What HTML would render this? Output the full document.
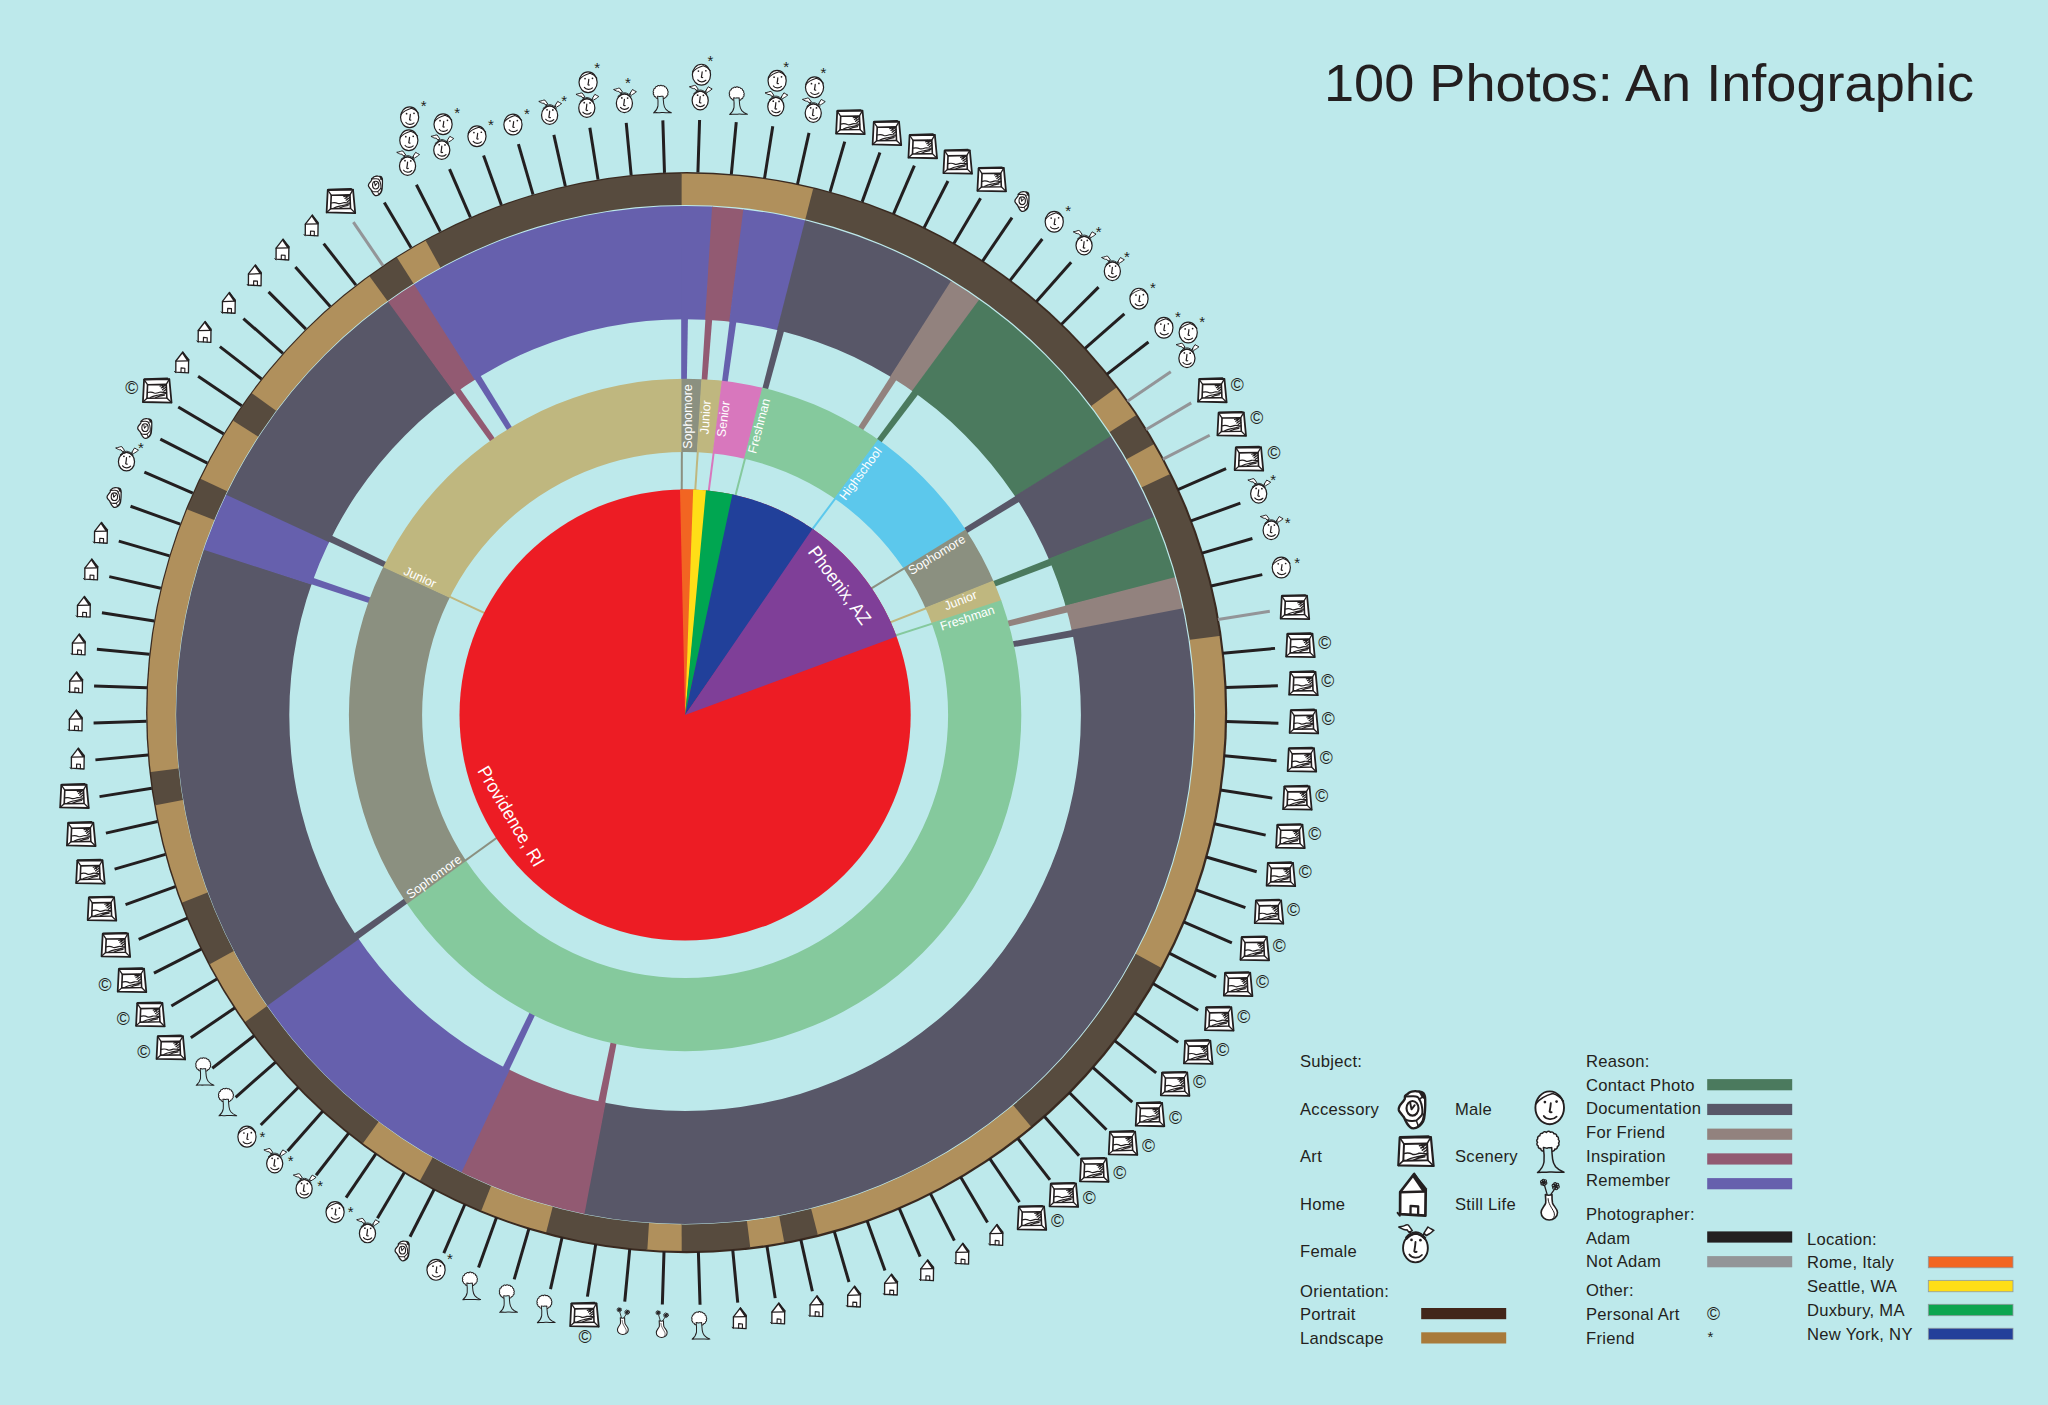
<!DOCTYPE html>
<html><head><meta charset="utf-8"><title>100 Photos: An Infographic</title>
<style>html,body{margin:0;padding:0;background:#bde9eb;overflow:hidden;width:2048px;height:1405px;}svg{display:block;}</style></head>
<body>
<svg width="2048" height="1405" viewBox="0 0 2048 1405" font-family="Liberation Sans, sans-serif">
<defs>
<clipPath id="cy"><path clip-rule="evenodd" d="M348.9,715 a336.2,336.2 0 1,0 672.4,0 a336.2,336.2 0 1,0 -672.4,0ZM422.1,715 a263,263 0 1,0 526,0 a263,263 0 1,0 -526,0Z"/></clipPath>
<clipPath id="cr"><path clip-rule="evenodd" d="M176.1,715 a509,509 0 1,0 1018,0 a509,509 0 1,0 -1018,0ZM289.3,715 a395.8,395.8 0 1,0 791.6,0 a395.8,395.8 0 1,0 -791.6,0Z"/></clipPath>
<clipPath id="co"><path clip-rule="evenodd" d="M147.4,712.2 a538.8,538.8 0 1,0 1077.6,0 a538.8,538.8 0 1,0 -1077.6,0ZM175.7,714.65 a509.75,509.75 0 1,0 1019.5,0 a509.75,509.75 0 1,0 -1019.5,0Z"/></clipPath>
<clipPath id="co2"><path clip-rule="evenodd" d="M143.4,712.2 a542.8,542.8 0 1,0 1085.6,0 a542.8,542.8 0 1,0 -1085.6,0ZM172.7,714.65 a512.75,512.75 0 1,0 1025.5,0 a512.75,512.75 0 1,0 -1025.5,0Z"/></clipPath>
<clipPath id="c1"><path clip-rule="evenodd" d="M286.3,715 a398.8,398.8 0 1,0 797.6,0 a398.8,398.8 0 1,0 -797.6,0ZM351.9,715 a333.2,333.2 0 1,0 666.4,0 a333.2,333.2 0 1,0 -666.4,0Z"/></clipPath>
<clipPath id="c2"><path clip-rule="evenodd" d="M419.1,715 a266,266 0 1,0 532,0 a266,266 0 1,0 -532,0ZM462.5,715 a222.6,222.6 0 1,0 445.2,0 a222.6,222.6 0 1,0 -445.2,0Z"/></clipPath>
<g id="i-watch" fill="#fff" stroke="#231f20" stroke-linejoin="round" stroke-linecap="round"><path stroke-width="2.4" d="M-4.2,-15.9 C-3,-17.2 -1.6,-17.8 -0.4,-18.1 C1.4,-18.6 3,-18.7 4.4,-18.6 C6.2,-18.6 8,-18.4 9.5,-17.8 C11.2,-17.2 12.2,-16.2 12.6,-14.9 C13.1,-13.4 13.3,-11.8 13.3,-10.1 C13.4,-6.6 13.3,-3.2 13.1,0.2 C12.9,3 12.7,6 12.2,8.7 C11.8,10.6 10.9,12.4 9.8,13.8 C8.9,15 7.8,16.1 6.4,16.9 C5,17.8 3.2,18.5 1.6,18.6 C0.2,18.6 -0.9,18.1 -1.8,17.3 C-2.9,16.4 -3.8,15.3 -4.5,14.2 C-5.4,12.9 -6,11.6 -6.6,10.4 C-7.1,9.2 -7.6,8 -8.3,7 C-9.2,5.7 -10.4,4.5 -11.3,3.2 C-12.1,2.2 -12.9,1.3 -13.1,0.2 C-13.3,-1.1 -13,-2.4 -12.4,-3.6 C-11.6,-5.1 -10.3,-6.4 -9.3,-7.7 C-8.5,-8.7 -7.6,-9.7 -7.2,-10.8 C-6.9,-11.7 -7.1,-12.6 -6.9,-13.5 C-6.4,-14.6 -5.2,-15.2 -4.2,-15.9Z"/><path stroke="none" fill="#231f20" d="M6.6,-17.6 C9,-18.2 11.6,-17.4 12.8,-15 C13.5,-13 13.6,-10.6 13.4,-8.6 C12.6,-10.6 11.4,-11.8 9.7,-12.4 C8.9,-14.2 7.9,-15.9 6.6,-17.6Z"/><path stroke="none" fill="#231f20" d="M13,3 C12.8,6.4 12.2,9.6 10.6,12.6 C9.2,15 7.4,16.6 5.4,17.4 L5.2,15.6 C7.2,14.6 8.8,12.6 9.8,10.4 C10.6,8.4 10.9,6.2 11,4Z"/><path stroke-width="2" fill="none" d="M-6.9,-13.2 C-4,-13.4 -1,-13.6 1.6,-13.5 C3.2,-13.4 4.6,-13.2 5.7,-12.8 C6.6,-12.2 7,-11.3 7.4,-10.4 C8.2,-9.2 8.8,-8 9.2,-6.7 C9.7,-5.2 10,-3.5 10.2,-1.9 C10.4,-0.5 10.6,0.8 10.5,2.2 C10.5,3.3 10.3,4.4 9.8,5.3 C8.2,7.4 6.2,9.1 4.4,10.8 C2.8,11.1 1.2,11.2 -0.4,11.1 C-2,11 -3.5,10.8 -4.9,10.4 L-5.9,9.7"/><path stroke-width="1.5" fill="none" d="M4.4,10.8 L6.2,15.6 M7.4,-10.4 C8.6,-11.6 9.6,-12.2 10.6,-12.2"/><ellipse cx="0.6" cy="-1.5" rx="6" ry="7.3" stroke-width="2.1"/><path fill="none" stroke-width="1.9" d="M-1.7,-7 L-0.4,-0.4 L2.8,-4.6"/></g>
<g id="i-art" fill="#fff" stroke="#231f20" stroke-linejoin="round" stroke-linecap="round"><path stroke-width="2.2" d="M-16.2,-13.8 L15,-14.3 L17.7,14.6 L-17.6,13.9Z"/><path stroke-width="2.4" fill="none" d="M-15.6,-14.2 L12.6,-15"/><path stroke-width="2" d="M-11.9,-7.4 L11.2,-7.8 L11.9,8.9 L-12.6,9.3Z"/><path stroke-width="1.6" fill="none" d="M-16.2,-13.8 L-11.9,-7.4 M15,-14.3 L11.2,-7.8 M17.7,14.6 L11.9,8.9 M-17.6,13.9 L-12.6,9.3"/><path stroke-width="1.5" fill="none" d="M-12,2.2 C-9,1.4 -6,1.6 -3.6,2.8 C-1.4,3.8 1,2.6 3,1.9 C5.4,1.2 8.6,2.6 11.6,2.2"/><path stroke-width="1.4" fill="none" d="M-8.6,8.4 C-5.6,6.8 -2.4,6.2 0.4,5.6 C3.6,4.9 6.8,4.2 10.6,3.4 M-2,8.6 C1.6,6.8 5.2,6 9,5.4"/><path stroke-width="1.5" fill="none" d="M10.8,-7.2 L5,-3.4 M11,-4.6 L6.4,-1.2 M8.6,-7.4 L3.6,-5.6 M11.2,-1.8 L8,0.6 M6,-7.4 L7.4,-4"/></g>
<g id="i-home" fill="#fff" stroke="#231f20" stroke-linejoin="round" stroke-linecap="round"><path stroke-width="2.7" d="M2.3,-21 L-11.6,-3 L-11.7,19.1 L13.6,20.7 L13.9,-3.6Z"/><path stroke="none" fill="#231f20" d="M2.3,-22.4 L0.4,-18.4 L10.6,-3.4 L15.3,-3.6 L15.2,-6.6Z"/><path stroke-width="2.5" fill="none" d="M-11.6,-2.8 L14,-3.4"/><path stroke-width="2.3" fill="none" d="M-1.3,19.6 L-1.2,10.8 L6.4,11.5 L6.3,20"/><path stroke-width="2" fill="none" d="M-14.2,17.8 L-12,20.6"/></g>
<g id="i-female" fill="#fff" stroke="#231f20" stroke-linejoin="round" stroke-linecap="round"><path stroke-width="1.5" d="M-7.2,-11.4 L-9.2,-14 C-12,-13.4 -14.2,-15.2 -17.4,-16.8 C-15.4,-17.6 -13.4,-17.2 -11.6,-18.2 C-10.2,-18.9 -9,-19.2 -7.8,-18.7 L-3.9,-13.2Z"/><path stroke-width="1.5" d="M7.6,-10.4 L11.7,-16.8 C13.6,-15.4 15.6,-14.6 17.7,-13.4 C16.4,-12.8 15.4,-11.4 14.2,-10.6 C12.8,-9.8 11.6,-9.2 10.2,-8.2Z"/><ellipse cx="-0.75" cy="4.3" rx="12.4" ry="14.3" stroke-width="1.9"/><path stroke-width="1.4" fill="none" d="M-10.4,-6.4 C-7.6,-9.8 -4,-11.6 -0.4,-11.8 C3.4,-11.6 6.8,-9.4 9.4,-5.8 M-9.6,-4.6 C-6.6,-8.2 -3.6,-9.6 -0.2,-9.8 C3,-9.6 6,-7.8 8.4,-4.6 M-6.6,-12 L-4.4,-9 M8.4,-10.4 L6.4,-8"/><circle cx="-4.7" cy="-3.9" r="1.35" fill="#231f20" stroke="none"/><circle cx="4.2" cy="-3.6" r="1.35" fill="#231f20" stroke="none"/><path stroke-width="1.9" fill="none" d="M-0.7,-1.8 C-0.9,1.6 -1.4,4.6 -1.9,7.4 C-1.4,8.2 -0.6,8.3 0.4,8"/><path stroke-width="1.8" fill="none" d="M-6.8,10.7 C-4.4,14.4 2.4,15 5.7,11.2"/></g>
<g id="i-male" fill="#fff" stroke="#231f20" stroke-linejoin="round" stroke-linecap="round"><ellipse cx="0" cy="0" rx="14.3" ry="16.4" stroke-width="1.9"/><path stroke-width="1.6" fill="none" d="M-13.7,-4 C-10.8,-8 -5.4,-11.8 3,-14.2 C6.8,-13.2 10.8,-10.6 13.7,-6.6"/><circle cx="-4.8" cy="-5.7" r="1.35" fill="#231f20" stroke="none"/><circle cx="6.9" cy="-6.2" r="1.35" fill="#231f20" stroke="none"/><path stroke-width="1.9" fill="none" d="M1.1,-4.6 C0.9,-1.6 0.4,1.4 -0.1,3.8 C0.4,4.6 1,4.7 1.9,4.4"/><path stroke-width="1.8" fill="none" d="M-5.9,8.2 C-3.4,11.9 3.4,12.4 6.9,8.8"/></g>
<g id="i-tree" fill="#fff" stroke="#231f20" stroke-linejoin="round" stroke-linecap="round"><path stroke-width="1.5" d="M0.0,-19.9 A2.4,2.4 0 0 1 3.6,-18.5 A2.3,2.3 0 0 1 6.4,-15.9 A2.3,2.3 0 0 1 8.0,-12.7 A2.2,2.2 0 0 1 8.2,-9.2 A2.2,2.2 0 0 1 7.1,-5.7 A2.3,2.3 0 0 1 4.5,-3.1 A2.4,2.4 0 0 1 1.2,-1.1 A2.4,2.4 0 0 1 -2.7,-0.8 A2.4,2.4 0 0 1 -6.5,-1.4 A2.3,2.3 0 0 1 -9.6,-3.6 A2.3,2.3 0 0 1 -12.1,-6.3 A2.2,2.2 0 0 1 -12.7,-9.9 A2.2,2.2 0 0 1 -12.6,-13.4 A2.3,2.3 0 0 1 -10.4,-16.4 A2.3,2.3 0 0 1 -7.7,-19.0 A2.4,2.4 0 0 1 -3.8,-19.8 A2.4,2.4 0 0 1 0.1,-20.1Z"/><path stroke-width="1.5" fill="#bde9eb" d="M-6.9,-4.6 C-6.2,0 -6,5 -6.3,9.8 C-7,14 -9.6,17.8 -12.8,20.3 C-9,19.4 -5,20.4 -1,19.9 C3,19.4 8,20.5 13.7,20.1 C10,18.6 7,16.6 5.3,14.6 C3.4,12 2.6,9.6 2.3,7 C1.8,3 1.5,-1 1.4,-4.6 C-0.6,-3.8 -1.6,-5 -2.8,-4.2 C-4,-3.6 -5.4,-4.9 -6.9,-4.6Z"/></g>
<g id="i-vase" fill="#fff" stroke="#231f20" stroke-linejoin="round" stroke-linecap="round"><path stroke-width="1.3" fill="none" d="M-4.6,-14 L-2.2,-5.6 M4.9,-10.4 L1.6,-5.6"/><circle cx="-3.7" cy="-17.0" r="1.3" fill="none" stroke-width="1.1"/><circle cx="-5.2" cy="-15.7" r="1.3" fill="none" stroke-width="1.1"/><circle cx="-7.1" cy="-16.3" r="1.3" fill="none" stroke-width="1.1"/><circle cx="-7.5" cy="-18.2" r="1.3" fill="none" stroke-width="1.1"/><circle cx="-6.0" cy="-19.5" r="1.3" fill="none" stroke-width="1.1"/><circle cx="-4.1" cy="-18.9" r="1.3" fill="none" stroke-width="1.1"/><circle cx="-5.6" cy="-17.6" r="1.0" fill="#231f20" stroke="none"/><circle cx="8.5" cy="-13.2" r="1.5" fill="none" stroke-width="1.1"/><circle cx="6.9" cy="-11.7" r="1.5" fill="none" stroke-width="1.1"/><circle cx="4.8" cy="-12.3" r="1.5" fill="none" stroke-width="1.1"/><circle cx="4.3" cy="-14.4" r="1.5" fill="none" stroke-width="1.1"/><circle cx="5.9" cy="-15.9" r="1.5" fill="none" stroke-width="1.1"/><circle cx="8.0" cy="-15.3" r="1.5" fill="none" stroke-width="1.1"/><circle cx="6.4" cy="-13.8" r="1.1" fill="#231f20" stroke="none"/><path stroke-width="1.6" d="M-3.9,-5.4 C-3.6,-2 -3.4,0.6 -3.6,3 C-4.4,6 -8.2,8.6 -8.2,12.6 C-8.2,17 -4.4,20 -0.1,20 C4.4,20 8.2,17 8.2,12.6 C8.2,8.6 4,6 3.2,3 C2.8,0.6 2.6,-2 2.7,-5.4 C0.6,-4.6 -1.8,-4.6 -3.9,-5.4Z"/><path stroke-width="1" fill="none" d="M-1.2,-1.4 C-1.4,3 2.6,8 4.6,12 C5.6,14.6 5.2,17 3.6,18.8"/></g>
</defs>
<rect width="2048" height="1405" fill="#bde9eb"/>
<g clip-path="url(#c1)">
<path d="M681.2,704.5L681.2,284.5L688.53,284.56Z" fill="#6660ad"/>
<path d="M681.2,704.5L707.57,285.33L714.88,285.85Z" fill="#925a72"/>
<path d="M681.2,704.5L733.84,287.81L741.1,288.79Z" fill="#6660ad"/>
<path d="M681.2,704.5L785.65,297.7L792.73,299.58Z" fill="#585768"/>
<path d="M681.2,704.5L907.17,350.47L913.32,354.47Z" fill="#92827e"/>
<path d="M681.2,704.5L930.44,366.44L936.3,370.85Z" fill="#4b7a5e"/>
<path d="M681.2,704.5L1037.57,482.24L1041.4,488.5Z" fill="#585768"/>
<path d="M681.2,704.5L1071.71,549.89L1074.35,556.73Z" fill="#4b7a5e"/>
<path d="M681.2,704.5L1088,600.05L1089.77,607.17Z" fill="#92827e"/>
<path d="M681.2,704.5L1093.76,625.8L1095.07,633.01Z" fill="#585768"/>
<path d="M681.2,704.5L602.5,1117.06L595.31,1115.62Z" fill="#925a72"/>
<path d="M681.2,704.5L502.37,1084.53L495.77,1081.35Z" fill="#6660ad"/>
<path d="M681.2,704.5L341.41,951.37L337.16,945.4Z" fill="#585768"/>
<path d="M681.2,704.5L281.76,574.71L284.08,567.76Z" fill="#6660ad"/>
<path d="M681.2,704.5L299.93,528.33L303.07,521.7Z" fill="#585768"/>
<path d="M681.2,704.5L434.33,364.71L440.3,360.46Z" fill="#925a72"/>
<path d="M681.2,704.5L456.15,349.88L462.38,346.01Z" fill="#6660ad"/>
</g>
<g clip-path="url(#c2)">
<line x1="681.59" y1="554.5" x2="681.99" y2="404.5" stroke="#8b9080" stroke-width="2"/>
<line x1="691.01" y1="554.82" x2="700.82" y2="405.14" stroke="#bfb77f" stroke-width="2"/>
<line x1="700.39" y1="555.73" x2="719.58" y2="406.97" stroke="#d877bd" stroke-width="2"/>
<line x1="718.88" y1="559.31" x2="756.57" y2="414.12" stroke="#85c99d" stroke-width="2"/>
<line x1="771.05" y1="584.39" x2="860.91" y2="464.28" stroke="#5cc8ec" stroke-width="2"/>
<line x1="809.23" y1="626.35" x2="937.27" y2="548.2" stroke="#8b9080" stroke-width="2"/>
<line x1="820.81" y1="649.65" x2="960.42" y2="594.79" stroke="#bfb77f" stroke-width="2"/>
<line x1="823.98" y1="658.52" x2="966.76" y2="612.54" stroke="#85c99d" stroke-width="2"/>
<line x1="559.62" y1="792.35" x2="438.03" y2="880.2" stroke="#8b9080" stroke-width="2"/>
<line x1="545.2" y1="641.23" x2="409.2" y2="577.95" stroke="#bfb77f" stroke-width="2"/>
</g>
<circle cx="685.1" cy="715" r="225.6" fill="#ed1c24"/>
<path d="M685.1,715L679.98,489.46L681.83,489.42L683.67,489.4L685.52,489.4L687.36,489.41L689.21,489.44L691.05,489.48L692.9,489.53L694.74,489.61Z" fill="#f26522"/>
<path d="M685.1,715L693.17,489.54L694.97,489.62L696.76,489.7L698.55,489.8L700.35,489.92L702.14,490.04L703.93,490.19L705.72,490.34L707.51,490.52Z" fill="#ffde17"/>
<path d="M685.1,715L705.94,490.36L707.82,490.55L709.7,490.75L711.58,490.96L713.45,491.19L715.33,491.43L717.2,491.7L719.07,491.97L720.94,492.26L722.8,492.57L724.66,492.9L726.52,493.24L728.38,493.59L730.23,493.96L732.08,494.35L733.93,494.75Z" fill="#00a651"/>
<path d="M685.1,715L732.39,494.41L734.29,494.83L736.18,495.26L738.07,495.71L739.96,496.17L741.84,496.65L743.72,497.15L745.6,497.66L747.46,498.19L749.33,498.74L751.19,499.3L753.05,499.87L754.9,500.47L756.74,501.08L758.58,501.7L760.41,502.34L762.24,503L764.07,503.67L765.88,504.36L767.7,505.06L769.5,505.78L771.3,506.52L773.09,507.27L774.88,508.03L776.66,508.81L778.43,509.61L780.19,510.42L781.95,511.25L783.7,512.09L785.45,512.95L787.18,513.82L788.91,514.7L790.63,515.61L792.35,516.52L794.05,517.45L795.75,518.4L797.44,519.36L799.12,520.33L800.79,521.32L802.46,522.33L804.11,523.35L805.76,524.38L807.4,525.42L809.02,526.48L810.64,527.56L812.25,528.65L813.85,529.75Z" fill="#21409a"/>
<path d="M685.1,715L812.56,528.85L814.16,529.97L815.76,531.09L817.35,532.23L818.93,533.38L820.5,534.55L822.06,535.73L823.61,536.92L825.14,538.13L826.67,539.35L828.19,540.58L829.69,541.83L831.19,543.09L832.67,544.36L834.15,545.65L835.61,546.94L837.06,548.25L838.5,549.58L839.93,550.91L841.34,552.26L842.75,553.62L844.14,554.99L845.52,556.38L846.89,557.77L848.24,559.18L849.59,560.6L850.92,562.03L852.24,563.47L853.55,564.93L854.84,566.39L856.12,567.87L857.39,569.36L858.64,570.86L859.89,572.36L861.12,573.88L862.33,575.42L863.54,576.96L864.73,578.51L865.9,580.07L867.06,581.64L868.21,583.22L869.35,584.81L870.47,586.42L871.58,588.03L872.67,589.65L873.75,591.28L874.81,592.92L875.86,594.56L876.9,596.22L877.92,597.89L878.93,599.56L879.92,601.25L880.9,602.94L881.86,604.64L882.81,606.35L883.75,608.07L884.67,609.79L885.57,611.53L886.46,613.27L887.33,615.02L888.19,616.77L889.04,618.54L889.86,620.31L890.68,622.08L891.47,623.87L892.26,625.66L893.02,627.46L893.77,629.26L894.51,631.08L895.23,632.89L895.93,634.72L896.62,636.55Z" fill="#7f3f98"/>
<g clip-path="url(#cy)">
<path d="M681.2,704.5L680.54,-55.5L692.81,-55.41L705.07,-55.12L717.33,-54.64L729.58,-53.96Z" fill="#8b9080"/>
<path d="M681.2,704.5L728.26,-54.04L740.5,-53.18L752.72,-52.13L764.93,-50.87L777.11,-49.42Z" fill="#bfb77f"/>
<path d="M681.2,704.5L775.8,-49.59L789.5,-47.74L803.18,-45.65L816.81,-43.3L830.4,-40.71L843.94,-37.87L857.42,-34.79L870.85,-31.46Z" fill="#d877bd"/>
<path d="M681.2,704.5L869.56,-31.79L884.64,-27.77L899.63,-23.44L914.53,-18.8L929.32,-13.86L944.02,-8.61L958.6,-3.06L973.07,2.78L987.42,8.92L1001.63,15.35L1015.71,22.08L1029.65,29.09L1043.44,36.38L1057.08,43.96L1070.56,51.82L1083.88,59.95L1097.03,68.35L1110,77.02L1122.79,85.95L1135.4,95.15Z" fill="#85c99d"/>
<path d="M681.2,704.5L1134.33,94.36L1146.51,103.6L1158.51,113.08L1170.31,122.8L1181.91,132.76L1193.31,142.94L1204.5,153.36L1215.48,164L1226.25,174.85L1236.79,185.93L1247.11,197.21L1257.2,208.69L1267.06,220.38L1276.68,232.26L1286.06,244.34L1295.19,256.6L1304.08,269.04L1312.71,281.66L1321.09,294.45L1329.21,307.4Z" fill="#5cc8ec"/>
<path d="M681.2,704.5L1328.51,306.27L1336.15,318.96L1343.54,331.8L1350.68,344.78L1357.56,357.89L1364.19,371.14L1370.55,384.51L1376.66,398.01L1382.5,411.62L1388.07,425.34Z" fill="#8b9080"/>
<path d="M681.2,704.5L1387.59,424.11L1392.02,435.55L1396.27,447.06L1400.33,458.64L1404.21,470.28Z" fill="#bfb77f"/>
<path d="M681.2,704.5L1403.8,469.02L1408.54,484.1L1412.97,499.28L1417.08,514.54L1420.87,529.89L1424.34,545.31L1427.49,560.81L1430.32,576.36L1432.82,591.97L1435,607.63L1436.85,623.33L1438.38,639.07L1439.58,654.83L1440.44,670.62L1440.98,686.42L1441.2,702.23L1441.08,718.04L1440.63,733.84L1439.86,749.63L1438.76,765.4L1437.33,781.15L1435.57,796.86L1433.48,812.53L1431.07,828.16L1428.34,843.73L1425.28,859.24L1421.9,874.68L1418.2,890.05L1414.18,905.34L1409.84,920.55L1405.19,935.66L1400.23,950.67L1394.95,965.57L1389.37,980.36L1383.48,995.03L1377.28,1009.58L1370.78,1023.99L1363.99,1038.27L1356.9,1052.4L1349.51,1066.38L1341.84,1080.2L1333.88,1093.86L1325.64,1107.35L1317.12,1120.67L1308.33,1133.81L1299.26,1146.76L1289.93,1159.52L1280.33,1172.09L1270.48,1184.45L1260.37,1196.6L1250.01,1208.54L1239.4,1220.27L1228.55,1231.77L1217.46,1243.04L1206.14,1254.08L1194.6,1264.88L1182.83,1275.43L1170.85,1285.75L1158.65,1295.81L1146.25,1305.61L1133.64,1315.15L1120.84,1324.43L1107.85,1333.44L1094.68,1342.18L1081.32,1350.64L1067.79,1358.83L1054.1,1366.73L1040.24,1374.34L1026.23,1381.66L1012.07,1388.7L997.77,1395.43L983.33,1401.87L968.76,1408L954.06,1413.83L939.25,1419.35L924.32,1424.56L909.29,1429.47L894.16,1434.05L878.94,1438.33L863.63,1442.28L848.25,1445.91L832.79,1449.23L817.26,1452.22L801.68,1454.89L786.04,1457.23L770.36,1459.25L754.64,1460.94L738.89,1462.31L723.12,1463.34L707.32,1464.05L691.52,1464.43L675.71,1464.48L659.9,1464.2L644.1,1463.59L628.32,1462.66L612.56,1461.39L596.83,1459.8L581.14,1457.88L565.49,1455.64L549.89,1453.07L534.35,1450.18L518.87,1446.96L503.46,1443.42L488.13,1439.57L472.88,1435.39L457.72,1430.9L442.66,1426.09L427.7,1420.98L412.85,1415.55L398.12,1409.81L383.51,1403.77L369.03,1397.43L354.68,1390.78L340.48,1383.84L326.42,1376.61L312.51,1369.08L298.77,1361.27L285.19,1353.17L271.78,1344.8L258.55,1336.14L245.51,1327.21L232.65,1318.01L219.98,1308.55L207.52,1298.83L195.26,1288.84L183.21,1278.61L171.37,1268.13L159.76,1257.4L148.37,1246.43L137.21,1235.23L126.29,1223.8L115.61,1212.15L105.17,1200.27L94.98,1188.18L85.05,1175.88L75.37,1163.38L65.96,1150.68Z" fill="#85c99d"/>
<path d="M681.2,704.5L66.74,1151.75L57.55,1138.85L48.63,1125.76L39.99,1112.49L31.63,1099.03L23.55,1085.41L15.75,1071.62L8.25,1057.68L1.03,1043.58L-5.89,1029.33L-12.51,1014.94L-18.82,1000.41L-24.84,985.76L-30.55,970.99L-35.95,956.1L-41.03,941.1L-45.81,925.99L-50.27,910.79L-54.41,895.51L-58.23,880.14L-61.73,864.69L-64.9,849.17L-67.76,833.59L-70.28,817.95L-72.49,802.27L-74.36,786.54L-75.9,770.78L-77.12,754.98L-78.01,739.17L-78.57,723.34L-78.79,707.5L-78.69,691.67L-78.26,675.83L-77.5,660.01L-76.4,644.21L-74.98,628.43L-73.23,612.69L-71.16,596.99L-68.75,581.33L-66.02,565.73L-62.97,550.19L-59.59,534.72L-55.89,519.31L-51.87,503.99L-47.54,488.76L-42.88,473.62L-37.91,458.58L-32.63,443.65L-27.04,428.83L-21.14,414.13L-14.94,399.56L-8.43,385.11Z" fill="#8b9080"/>
<path d="M681.2,704.5L-8.99,386.32L-2.25,372.09L4.79,358L12.11,344.05L19.72,330.27L27.62,316.64L35.8,303.18L44.25,289.9L52.98,276.79L61.98,263.86L71.24,251.13L80.76,238.59L90.55,226.24L100.58,214.11L110.87,202.18L121.4,190.47L132.17,178.98L143.18,167.72L154.41,156.69L165.88,145.89L177.56,135.33L189.47,125.02L201.58,114.96L213.9,105.14L226.42,95.59L239.13,86.3L252.03,77.27L265.12,68.51L278.39,60.03L291.83,51.82L305.44,43.89L319.21,36.25L333.13,28.89L347.2,21.82L361.42,15.05L375.77,8.57L390.26,2.39L404.87,-3.48L419.6,-9.06L434.44,-14.33L449.39,-19.28L464.44,-23.93L479.57,-28.27L494.8,-32.29L510.11,-35.99L525.49,-39.38L540.93,-42.44L556.44,-45.19L572,-47.61L587.61,-49.72L603.26,-51.49L618.94,-52.95L634.65,-54.07L650.37,-54.87L666.12,-55.35L681.86,-55.5Z" fill="#bfb77f"/>
</g>
<g clip-path="url(#cr)">
<path d="M681.2,704.5L680.54,-55.5L692.81,-55.41L705.07,-55.12L717.33,-54.64L729.58,-53.96Z" fill="#6660ad"/>
<path d="M681.2,704.5L728.26,-54.04L740.5,-53.18L752.72,-52.13L764.93,-50.87L777.11,-49.42Z" fill="#925a72"/>
<path d="M681.2,704.5L775.8,-49.59L789.5,-47.74L803.18,-45.65L816.81,-43.3L830.4,-40.71L843.94,-37.87L857.42,-34.79L870.85,-31.46Z" fill="#6660ad"/>
<path d="M681.2,704.5L869.56,-31.79L884.18,-27.89L898.72,-23.71L913.17,-19.23L927.53,-14.47L941.8,-9.43L955.96,-4.1L970.01,1.51L983.95,7.4L997.76,13.57L1011.45,20.01L1025.01,26.72L1038.44,33.69L1051.72,40.94L1064.86,48.44L1077.84,56.21L1090.67,64.24Z" fill="#585768"/>
<path d="M681.2,704.5L1089.55,63.52L1100.53,70.66L1111.4,77.98L1122.13,85.48L1132.73,93.17Z" fill="#92827e"/>
<path d="M681.2,704.5L1131.66,92.39L1143.8,101.51L1155.76,110.87L1167.52,120.47L1179.09,130.3L1190.47,140.36L1201.63,150.65L1212.59,161.16L1223.34,171.88L1233.88,182.82L1244.19,193.97L1254.28,205.32L1264.13,216.86L1273.76,228.61L1283.15,240.54L1292.3,252.66L1301.2,264.96L1309.86,277.43L1318.27,290.08L1326.42,302.89Z" fill="#4b7a5e"/>
<path d="M681.2,704.5L1325.72,301.76L1333.75,314.9L1341.51,328.21L1349,341.67L1356.21,355.27L1363.15,369.02L1369.81,382.91L1376.18,396.93L1382.27,411.08L1388.07,425.34Z" fill="#585768"/>
<path d="M681.2,704.5L1387.59,424.11L1392.57,437.01L1397.32,450L1401.84,463.08L1406.11,476.23L1410.14,489.47L1413.94,502.77L1417.49,516.14Z" fill="#4b7a5e"/>
<path d="M681.2,704.5L1417.16,514.85L1420.12,526.76L1422.9,538.71L1425.48,550.71L1427.86,562.74Z" fill="#92827e"/>
<path d="M681.2,704.5L1427.61,561.44L1430.42,576.95L1432.9,592.51L1435.06,608.13L1436.9,623.78L1438.41,639.47L1439.6,655.19L1440.46,670.93L1440.99,686.68L1441.2,702.44L1441.08,718.2L1440.63,733.96L1439.85,749.7L1438.75,765.42L1437.33,781.12L1435.58,796.78L1433.5,812.41L1431.1,827.99L1428.38,843.51L1425.33,858.98L1421.97,874.38L1418.29,889.7L1414.29,904.95L1409.98,920.11L1405.35,935.18L1400.41,950.14L1395.16,965.01L1389.6,979.76L1383.74,994.39L1377.58,1008.89L1371.12,1023.27L1364.36,1037.51L1357.3,1051.61L1349.96,1065.55L1342.33,1079.34L1334.41,1092.97L1326.22,1106.44L1317.74,1119.73L1308.99,1132.84L1299.98,1145.77L1290.69,1158.5L1281.15,1171.04L1271.34,1183.39L1261.28,1195.52L1250.98,1207.45L1240.42,1219.15L1229.63,1230.64L1218.6,1241.9L1207.34,1252.93L1195.85,1263.72L1184.15,1274.28L1172.22,1284.58L1160.09,1294.64L1147.74,1304.45L1135.2,1313.99L1122.47,1323.28L1109.54,1332.29L1096.43,1341.04L1083.14,1349.52L1069.67,1357.71L1056.04,1365.63L1042.25,1373.26L1028.31,1380.6L1014.21,1387.66L999.97,1394.42L985.59,1400.88L971.09,1407.04L956.46,1412.9L941.71,1418.46L926.84,1423.71L911.88,1428.65L896.81,1433.28L881.65,1437.59L866.4,1441.59L851.08,1445.27L835.68,1448.63L820.21,1451.68L804.69,1454.4L789.11,1456.8L773.48,1458.88L757.82,1460.63L742.12,1462.05L726.4,1463.15L710.66,1463.93L694.9,1464.38L679.14,1464.5L663.38,1464.29L647.63,1463.76L631.89,1462.9L616.17,1461.71L600.48,1460.2L584.83,1458.36L569.21,1456.2L553.65,1453.72L538.14,1450.91Z" fill="#585768"/>
<path d="M681.2,704.5L539.44,1451.16L524.93,1448.26L510.49,1445.08L496.1,1441.62L481.79,1437.87L467.55,1433.85L453.39,1429.55L439.32,1424.98L425.34,1420.14L411.46,1415.02L397.68,1409.64L384.01,1403.98L370.45,1398.07L357.01,1391.89Z" fill="#925a72"/>
<path d="M681.2,704.5L358.21,1392.45L344.39,1385.79L330.72,1378.86L317.18,1371.65L303.8,1364.17L290.57,1356.42L277.49,1348.41L264.59,1340.14L251.85,1331.6L239.28,1322.81L226.9,1313.77L214.7,1304.48L202.69,1294.95L190.88,1285.17L179.26,1275.16L167.85,1264.92L156.65,1254.45L145.66,1243.76L134.89,1232.84L124.34,1221.71L114.02,1210.37L103.93,1198.83L94.07,1187.08L84.46,1175.14L75.08,1163L65.96,1150.68Z" fill="#6660ad"/>
<path d="M681.2,704.5L66.74,1151.75L57.69,1139.05L48.9,1126.16L40.38,1113.09L32.13,1099.85L24.15,1086.45L16.45,1072.88L9.03,1059.16L1.89,1045.29L-4.96,1031.27L-11.53,1017.12L-17.8,1002.84L-23.77,988.43L-29.45,973.9L-34.83,959.25L-39.91,944.5L-44.68,929.65L-49.15,914.7L-53.31,899.67L-57.16,884.55L-60.7,869.36L-63.93,854.1L-66.84,838.77L-69.44,823.39L-71.73,807.96L-73.69,792.48L-75.34,776.97L-76.67,761.43L-77.67,745.86L-78.36,730.27L-78.73,714.68L-78.78,699.08L-78.51,683.48L-77.92,667.89L-77.01,652.32L-75.78,636.77L-74.23,621.25L-72.36,605.76L-70.17,590.31L-67.67,574.91L-64.85,559.57L-61.72,544.29L-58.28,529.07L-54.52,513.93L-50.45,498.87L-46.08,483.9L-41.4,469.02Z" fill="#585768"/>
<path d="M681.2,704.5L-41.81,470.28L-36.96,455.81L-31.83,441.45L-26.4,427.19L-20.69,413.05L-14.7,399.02L-8.43,385.11Z" fill="#6660ad"/>
<path d="M681.2,704.5L-8.99,386.32L-2.34,372.27L4.6,358.36L11.82,344.59L19.33,330.97L27.1,317.51L35.16,304.22L43.48,291.09L52.07,278.13L60.92,265.35L70.03,252.75L79.4,240.35L89.02,228.14L98.89,216.12L109,204.32L119.35,192.72L129.93,181.33L140.75,170.17L151.79,159.22L163.06,148.51L174.54,138.03L186.23,127.78L198.13,117.78L210.23,108.02L222.53,98.51L235.02,89.26Z" fill="#585768"/>
<path d="M681.2,704.5L233.95,90.04L243.92,82.9L254.02,75.92L264.22,69.1L274.53,62.46Z" fill="#925a72"/>
<path d="M681.2,704.5L273.41,63.17L286.49,55.04L299.72,47.18L313.12,39.58L326.66,32.26L340.35,25.22L354.18,18.45L368.15,11.97L382.24,5.77L396.46,-0.14L410.79,-5.77L425.23,-11.1L439.78,-16.14L454.43,-20.88L469.17,-25.32L483.99,-29.47L498.9,-33.31L513.89,-36.85L528.94,-40.09L544.05,-43.02L559.22,-45.65L574.44,-47.96L589.71,-49.97L605.01,-51.67L620.34,-53.06L635.7,-54.14L651.08,-54.9L666.47,-55.36L681.86,-55.5Z" fill="#6660ad"/>
</g>
<circle cx="686.65" cy="712.65" r="540.55" fill="#3a2a20" clip-path="url(#co2)"/>
<g clip-path="url(#co)">
<path d="M681.2,704.5L680.54,-55.5L695.33,-55.37L710.12,-54.95L724.9,-54.24L739.66,-53.25L754.4,-51.97L769.11,-50.4L783.79,-48.54L798.43,-46.4L813.02,-43.98L827.57,-41.27L842.06,-38.28L856.48,-35.01L870.85,-31.46Z" fill="#b0905c"/>
<path d="M681.2,704.5L869.56,-31.79L884.53,-27.8L899.41,-23.5L914.2,-18.9L928.89,-14.01L943.48,-8.81L957.96,-3.32L972.33,2.47L986.57,8.55L1000.69,14.92L1014.68,21.57L1028.53,28.51L1042.23,35.73L1055.78,43.22L1069.18,50.99L1082.42,59.03L1095.49,67.34L1108.38,75.92L1121.1,84.75L1133.64,93.85L1145.99,103.19L1158.15,112.79L1170.11,122.63L1181.86,132.72L1193.41,143.04L1204.75,153.59L1215.86,164.37L1226.76,175.38L1237.43,186.61L1247.87,198.05L1258.07,209.7L1268.03,221.56L1277.75,233.62L1287.22,245.88L1296.44,258.32Z" fill="#574b3e"/>
<path d="M681.2,704.5L1295.66,257.25L1302.8,267.22L1309.78,277.32L1316.6,287.52L1323.24,297.83Z" fill="#b0905c"/>
<path d="M681.2,704.5L1322.53,296.71L1329.03,307.12L1335.36,317.63L1341.52,328.24L1347.51,338.95Z" fill="#574b3e"/>
<path d="M681.2,704.5L1346.87,337.79L1352.71,348.58L1358.36,359.47L1363.85,370.44L1369.15,381.51Z" fill="#b0905c"/>
<path d="M681.2,704.5L1368.59,380.31L1374.85,393.94L1380.85,407.7L1386.57,421.57L1392.02,435.55L1397.19,449.63L1402.08,463.82L1406.69,478.1L1411.02,492.47L1415.07,506.92L1418.82,521.44L1422.3,536.04L1425.48,550.71L1428.37,565.43L1430.97,580.21L1433.28,595.04L1435.29,609.9Z" fill="#574b3e"/>
<path d="M681.2,704.5L1435.12,608.59L1436.92,623.93L1438.4,639.31L1439.57,654.71L1440.42,670.13L1440.96,685.57L1441.19,701.01L1441.11,716.46L1440.71,731.9L1439.99,747.33L1438.97,762.74L1437.62,778.13L1435.97,793.49L1434.01,808.81L1431.73,824.09L1429.15,839.32L1426.25,854.49L1423.05,869.6L1419.54,884.64L1415.73,899.61L1411.61,914.5L1407.19,929.3L1402.47,944.01L1397.46,958.62L1392.15,973.12L1386.54,987.51L1380.64,1001.79L1374.46,1015.94L1367.98,1029.97L1361.23,1043.86L1354.19,1057.61L1346.87,1071.21Z" fill="#b0905c"/>
<path d="M681.2,704.5L1347.51,1070.05L1340.09,1083.26L1332.41,1096.32L1324.47,1109.22L1316.28,1121.96L1307.83,1134.54L1299.14,1146.94L1290.19,1159.17L1281.01,1171.22L1271.59,1183.08L1261.93,1194.75L1252.05,1206.23L1241.93,1217.51L1231.59,1228.59L1221.04,1239.45L1210.27,1250.11L1199.29,1260.54L1188.1,1270.76L1176.72,1280.75L1165.13,1290.51Z" fill="#574b3e"/>
<path d="M681.2,704.5L1166.15,1289.67L1154.31,1299.28L1142.28,1308.66L1130.06,1317.79L1117.66,1326.67L1105.09,1335.31L1092.34,1343.69L1079.43,1351.81L1066.36,1359.67L1053.13,1367.27L1039.75,1374.6L1026.23,1381.66L1012.57,1388.45L998.78,1394.97L984.86,1401.2L970.81,1407.15L956.65,1412.83L942.38,1418.21L928,1423.31L913.53,1428.12L898.96,1432.64L884.3,1436.86L869.56,1440.79Z" fill="#b0905c"/>
<path d="M681.2,704.5L870.85,1440.46L858.94,1443.42L846.99,1446.2L834.99,1448.78L822.96,1451.16Z" fill="#574b3e"/>
<path d="M681.2,704.5L824.26,1450.91L812.19,1453.13L800.09,1455.14L787.96,1456.96L775.8,1458.59Z" fill="#b0905c"/>
<path d="M681.2,704.5L777.11,1458.42L763.37,1460.04L749.61,1461.41L735.82,1462.53L722.02,1463.4L708.2,1464.02L694.37,1464.39L680.54,1464.5Z" fill="#574b3e"/>
<path d="M681.2,704.5L681.86,1464.5L669.59,1464.41L657.33,1464.12L645.07,1463.64L632.82,1462.96Z" fill="#b0905c"/>
<path d="M681.2,704.5L634.14,1463.04L619.72,1462.01L605.32,1460.7L590.95,1459.12L576.61,1457.27L562.31,1455.14L548.05,1452.75L533.84,1450.08L519.69,1447.14L505.59,1443.93L491.55,1440.46Z" fill="#574b3e"/>
<path d="M681.2,704.5L492.84,1440.79L479.47,1437.24L466.17,1433.44L452.93,1429.41L439.78,1425.14L426.7,1420.62L413.71,1415.87L400.81,1410.89Z" fill="#b0905c"/>
<path d="M681.2,704.5L402.04,1411.37L389.22,1406.18L376.5,1400.75L363.88,1395.08L351.36,1389.2L338.96,1383.08L326.66,1376.74L314.49,1370.17Z" fill="#574b3e"/>
<path d="M681.2,704.5L315.65,1370.81L303.58,1364.05L291.64,1357.07L279.83,1349.87L268.15,1342.46L256.61,1334.83L245.2,1327L233.95,1318.96Z" fill="#b0905c"/>
<path d="M681.2,704.5L235.02,1319.74L222.96,1310.81L211.08,1301.65L199.38,1292.25L187.87,1282.62L176.55,1272.77L165.43,1262.7L154.51,1252.41L143.8,1241.9L133.29,1231.19L123,1220.27L112.93,1209.15L103.08,1197.83L93.45,1186.32L84.05,1174.62L74.89,1162.74L65.96,1150.68Z" fill="#574b3e"/>
<path d="M681.2,704.5L66.74,1151.75L58.7,1140.5L50.87,1129.09L43.24,1117.55L35.83,1105.87L28.63,1094.06L21.65,1082.12L14.89,1070.05Z" fill="#b0905c"/>
<path d="M681.2,704.5L15.53,1071.21L8.96,1059.04L2.62,1046.74L-3.5,1034.34L-9.38,1021.82L-15.05,1009.2L-20.48,996.48L-25.67,983.66Z" fill="#574b3e"/>
<path d="M681.2,704.5L-25.19,984.89L-30.39,971.4L-35.34,957.82L-40.03,944.14L-44.46,930.38L-48.62,916.53L-52.52,902.61L-56.16,888.62L-59.53,874.56L-62.63,860.44L-65.46,846.26Z" fill="#b0905c"/>
<path d="M681.2,704.5L-65.21,847.56L-67.43,835.49L-69.44,823.39L-71.26,811.26L-72.89,799.1Z" fill="#574b3e"/>
<path d="M681.2,704.5L-72.72,800.41L-74.51,785.18L-75.98,769.92L-77.14,754.63L-78,739.32L-78.55,724L-78.79,708.67L-78.72,693.33L-78.34,678L-77.65,662.68L-76.65,647.38L-75.34,632.11L-73.73,616.86L-71.81,601.65L-69.58,586.47L-67.05,571.35L-64.21,556.28L-61.07,541.28L-57.62,526.33L-53.88,511.46L-49.83,496.67L-45.49,481.97L-40.85,467.35L-35.92,452.83L-30.7,438.42L-25.19,424.11Z" fill="#b0905c"/>
<path d="M681.2,704.5L-25.67,425.34L-21.08,413.97L-16.29,402.67L-11.33,391.45L-6.19,380.31Z" fill="#574b3e"/>
<path d="M681.2,704.5L-6.75,381.51L-0.76,369.04L5.46,356.68L11.9,344.44L18.57,332.32L25.45,320.32L32.55,308.45L39.87,296.71Z" fill="#b0905c"/>
<path d="M681.2,704.5L39.16,297.83L45.8,287.52L52.62,277.32L59.6,267.22L66.74,257.25Z" fill="#574b3e"/>
<path d="M681.2,704.5L65.96,258.32L74.89,246.26L84.05,234.38L93.45,222.68L103.08,211.17L112.93,199.85L123,188.73L133.29,177.81L143.8,167.1L154.51,156.59L165.43,146.3L176.55,136.23L187.87,126.38L199.38,116.75L211.08,107.35L222.96,98.19L235.02,89.26Z" fill="#b0905c"/>
<path d="M681.2,704.5L233.95,90.04L243.92,82.9L254.02,75.92L264.22,69.1L274.53,62.46Z" fill="#574b3e"/>
<path d="M681.2,704.5L273.41,63.17L283.82,56.67L294.33,50.34L304.94,44.18L315.65,38.19Z" fill="#b0905c"/>
<path d="M681.2,704.5L314.49,38.83L327.99,31.56L341.64,24.57L355.42,17.86L369.34,11.43L383.39,5.28L397.56,-0.59L411.84,-6.17L426.23,-11.45L440.73,-16.45L455.32,-21.16L470.01,-25.57L484.78,-29.68L499.63,-33.49L514.56,-37.01L529.55,-40.22L544.61,-43.12L559.72,-45.73L574.88,-48.03L590.08,-50.02L605.32,-51.7L620.59,-53.08L635.89,-54.15L651.2,-54.91L666.53,-55.36L681.86,-55.5Z" fill="#574b3e"/>
</g>
<line x1="697.92" y1="172.53" x2="699.57" y2="120.06" stroke="#231f20" stroke-width="3"/>
<line x1="731.32" y1="174.29" x2="736.26" y2="122.04" stroke="#231f20" stroke-width="3"/>
<line x1="764.57" y1="178.12" x2="772.78" y2="126.29" stroke="#231f20" stroke-width="3"/>
<line x1="797.54" y1="184.01" x2="808.99" y2="132.81" stroke="#231f20" stroke-width="3"/>
<line x1="830.11" y1="191.94" x2="844.75" y2="141.56" stroke="#231f20" stroke-width="3"/>
<line x1="862.15" y1="201.88" x2="879.92" y2="152.53" stroke="#231f20" stroke-width="3"/>
<line x1="893.54" y1="213.81" x2="914.37" y2="165.68" stroke="#231f20" stroke-width="3"/>
<line x1="924.15" y1="227.68" x2="947.96" y2="180.96" stroke="#231f20" stroke-width="3"/>
<line x1="953.87" y1="243.44" x2="980.56" y2="198.31" stroke="#231f20" stroke-width="3"/>
<line x1="982.58" y1="261.04" x2="1012.04" y2="217.68" stroke="#231f20" stroke-width="3"/>
<line x1="1010.15" y1="280.42" x2="1042.29" y2="238.99" stroke="#231f20" stroke-width="3"/>
<line x1="1036.5" y1="301.5" x2="1071.16" y2="262.17" stroke="#231f20" stroke-width="3"/>
<line x1="1061.49" y1="324.21" x2="1098.56" y2="287.14" stroke="#231f20" stroke-width="3"/>
<line x1="1085.05" y1="348.46" x2="1124.37" y2="313.79" stroke="#231f20" stroke-width="3"/>
<line x1="1107.06" y1="374.17" x2="1148.48" y2="342.04" stroke="#231f20" stroke-width="3"/>
<line x1="1127.43" y1="401.24" x2="1170.8" y2="371.77" stroke="#939598" stroke-width="3"/>
<line x1="1146.09" y1="429.56" x2="1191.22" y2="402.87" stroke="#939598" stroke-width="3"/>
<line x1="1162.95" y1="459.04" x2="1209.67" y2="435.23" stroke="#939598" stroke-width="3"/>
<line x1="1177.94" y1="489.54" x2="1226.07" y2="468.71" stroke="#231f20" stroke-width="3"/>
<line x1="1190.99" y1="520.96" x2="1240.34" y2="503.2" stroke="#231f20" stroke-width="3"/>
<line x1="1202.05" y1="553.18" x2="1252.42" y2="538.55" stroke="#231f20" stroke-width="3"/>
<line x1="1211.06" y1="586.06" x2="1262.26" y2="574.62" stroke="#231f20" stroke-width="3"/>
<line x1="1217.98" y1="619.48" x2="1269.81" y2="611.27" stroke="#939598" stroke-width="3"/>
<line x1="1222.78" y1="653.31" x2="1275.03" y2="648.37" stroke="#231f20" stroke-width="3"/>
<line x1="1225.43" y1="687.4" x2="1277.9" y2="685.75" stroke="#231f20" stroke-width="3"/>
<line x1="1225.92" y1="721.62" x2="1278.4" y2="723.27" stroke="#231f20" stroke-width="3"/>
<line x1="1224.23" y1="755.83" x2="1276.52" y2="760.77" stroke="#231f20" stroke-width="3"/>
<line x1="1220.38" y1="789.9" x2="1272.27" y2="798.12" stroke="#231f20" stroke-width="3"/>
<line x1="1214.36" y1="823.68" x2="1265.65" y2="835.14" stroke="#231f20" stroke-width="3"/>
<line x1="1206.21" y1="857.03" x2="1256.69" y2="871.69" stroke="#231f20" stroke-width="3"/>
<line x1="1195.94" y1="889.82" x2="1245.41" y2="907.63" stroke="#231f20" stroke-width="3"/>
<line x1="1183.6" y1="921.91" x2="1231.87" y2="942.8" stroke="#231f20" stroke-width="3"/>
<line x1="1169.23" y1="953.16" x2="1216.11" y2="977.05" stroke="#231f20" stroke-width="3"/>
<line x1="1152.89" y1="983.46" x2="1198.19" y2="1010.25" stroke="#231f20" stroke-width="3"/>
<line x1="1134.65" y1="1012.66" x2="1178.19" y2="1042.25" stroke="#231f20" stroke-width="3"/>
<line x1="1114.57" y1="1040.66" x2="1156.18" y2="1072.93" stroke="#231f20" stroke-width="3"/>
<line x1="1092.74" y1="1067.32" x2="1132.26" y2="1102.16" stroke="#231f20" stroke-width="3"/>
<line x1="1069.24" y1="1092.54" x2="1106.51" y2="1129.81" stroke="#231f20" stroke-width="3"/>
<line x1="1044.18" y1="1116.22" x2="1079.04" y2="1155.77" stroke="#231f20" stroke-width="3"/>
<line x1="1017.65" y1="1138.25" x2="1049.98" y2="1179.92" stroke="#231f20" stroke-width="3"/>
<line x1="989.77" y1="1158.55" x2="1019.42" y2="1202.18" stroke="#231f20" stroke-width="3"/>
<line x1="960.65" y1="1177.02" x2="987.51" y2="1222.45" stroke="#231f20" stroke-width="3"/>
<line x1="930.41" y1="1193.6" x2="954.37" y2="1240.63" stroke="#231f20" stroke-width="3"/>
<line x1="899.17" y1="1208.21" x2="920.15" y2="1256.67" stroke="#231f20" stroke-width="3"/>
<line x1="867.08" y1="1220.79" x2="884.97" y2="1270.49" stroke="#231f20" stroke-width="3"/>
<line x1="834.25" y1="1231.3" x2="848.99" y2="1282.04" stroke="#231f20" stroke-width="3"/>
<line x1="800.83" y1="1239.69" x2="812.36" y2="1291.27" stroke="#231f20" stroke-width="3"/>
<line x1="766.95" y1="1245.93" x2="775.22" y2="1298.14" stroke="#231f20" stroke-width="3"/>
<line x1="732.76" y1="1249.99" x2="737.74" y2="1302.64" stroke="#231f20" stroke-width="3"/>
<line x1="698.4" y1="1251.86" x2="700.06" y2="1304.73" stroke="#231f20" stroke-width="3"/>
<line x1="664.01" y1="1251.54" x2="662.35" y2="1304.43" stroke="#231f20" stroke-width="3"/>
<line x1="629.73" y1="1249.04" x2="624.75" y2="1301.73" stroke="#231f20" stroke-width="3"/>
<line x1="595.69" y1="1244.36" x2="587.41" y2="1296.64" stroke="#231f20" stroke-width="3"/>
<line x1="562.05" y1="1237.53" x2="550.5" y2="1289.2" stroke="#231f20" stroke-width="3"/>
<line x1="528.94" y1="1228.58" x2="514.17" y2="1279.44" stroke="#231f20" stroke-width="3"/>
<line x1="496.49" y1="1217.56" x2="478.55" y2="1267.39" stroke="#231f20" stroke-width="3"/>
<line x1="464.82" y1="1204.52" x2="443.79" y2="1253.13" stroke="#231f20" stroke-width="3"/>
<line x1="434.08" y1="1189.5" x2="410.03" y2="1236.7" stroke="#231f20" stroke-width="3"/>
<line x1="404.37" y1="1172.59" x2="377.4" y2="1218.19" stroke="#231f20" stroke-width="3"/>
<line x1="375.82" y1="1153.85" x2="346.04" y2="1197.67" stroke="#231f20" stroke-width="3"/>
<line x1="348.54" y1="1133.36" x2="316.07" y2="1175.22" stroke="#231f20" stroke-width="3"/>
<line x1="322.64" y1="1111.21" x2="287.6" y2="1150.96" stroke="#231f20" stroke-width="3"/>
<line x1="298.21" y1="1087.49" x2="260.74" y2="1124.96" stroke="#231f20" stroke-width="3"/>
<line x1="275.34" y1="1062.31" x2="235.59" y2="1097.35" stroke="#231f20" stroke-width="3"/>
<line x1="254.13" y1="1035.77" x2="212.26" y2="1068.25" stroke="#231f20" stroke-width="3"/>
<line x1="234.65" y1="1007.98" x2="190.83" y2="1037.76" stroke="#231f20" stroke-width="3"/>
<line x1="216.97" y1="979.05" x2="171.37" y2="1006.01" stroke="#231f20" stroke-width="3"/>
<line x1="201.16" y1="949.09" x2="153.96" y2="973.14" stroke="#231f20" stroke-width="3"/>
<line x1="187.27" y1="918.24" x2="138.66" y2="939.28" stroke="#231f20" stroke-width="3"/>
<line x1="175.35" y1="886.62" x2="125.52" y2="904.56" stroke="#231f20" stroke-width="3"/>
<line x1="165.45" y1="854.34" x2="114.6" y2="869.11" stroke="#231f20" stroke-width="3"/>
<line x1="157.59" y1="821.54" x2="105.92" y2="833.09" stroke="#231f20" stroke-width="3"/>
<line x1="151.8" y1="788.35" x2="99.52" y2="796.63" stroke="#231f20" stroke-width="3"/>
<line x1="148.09" y1="754.89" x2="95.4" y2="759.87" stroke="#231f20" stroke-width="3"/>
<line x1="146.48" y1="721.3" x2="93.59" y2="722.97" stroke="#231f20" stroke-width="3"/>
<line x1="146.96" y1="687.71" x2="94.09" y2="686.05" stroke="#231f20" stroke-width="3"/>
<line x1="149.52" y1="654.24" x2="96.87" y2="649.26" stroke="#231f20" stroke-width="3"/>
<line x1="154.16" y1="621.02" x2="101.94" y2="612.75" stroke="#231f20" stroke-width="3"/>
<line x1="160.84" y1="588.19" x2="109.26" y2="576.66" stroke="#231f20" stroke-width="3"/>
<line x1="169.54" y1="555.85" x2="118.8" y2="541.11" stroke="#231f20" stroke-width="3"/>
<line x1="180.22" y1="524.14" x2="130.52" y2="506.24" stroke="#231f20" stroke-width="3"/>
<line x1="192.84" y1="493.17" x2="144.37" y2="472.2" stroke="#231f20" stroke-width="3"/>
<line x1="207.34" y1="463.05" x2="160.3" y2="439.09" stroke="#231f20" stroke-width="3"/>
<line x1="223.66" y1="433.91" x2="178.24" y2="407.05" stroke="#231f20" stroke-width="3"/>
<line x1="241.75" y1="405.85" x2="198.12" y2="376.2" stroke="#231f20" stroke-width="3"/>
<line x1="261.53" y1="378.97" x2="219.86" y2="346.65" stroke="#231f20" stroke-width="3"/>
<line x1="282.93" y1="353.38" x2="243.38" y2="318.51" stroke="#231f20" stroke-width="3"/>
<line x1="305.86" y1="329.16" x2="268.59" y2="291.89" stroke="#231f20" stroke-width="3"/>
<line x1="330.23" y1="306.4" x2="295.39" y2="266.89" stroke="#231f20" stroke-width="3"/>
<line x1="355.96" y1="285.2" x2="323.68" y2="243.59" stroke="#231f20" stroke-width="3"/>
<line x1="382.95" y1="265.63" x2="353.35" y2="222.09" stroke="#939598" stroke-width="3"/>
<line x1="411.09" y1="247.77" x2="384.3" y2="202.47" stroke="#231f20" stroke-width="3"/>
<line x1="440.28" y1="231.67" x2="416.4" y2="184.79" stroke="#231f20" stroke-width="3"/>
<line x1="470.42" y1="217.41" x2="449.53" y2="169.14" stroke="#231f20" stroke-width="3"/>
<line x1="501.38" y1="205.03" x2="483.57" y2="155.55" stroke="#231f20" stroke-width="3"/>
<line x1="533.05" y1="194.58" x2="518.39" y2="144.1" stroke="#231f20" stroke-width="3"/>
<line x1="565.33" y1="186.11" x2="553.86" y2="134.82" stroke="#231f20" stroke-width="3"/>
<line x1="598.07" y1="179.64" x2="589.85" y2="127.75" stroke="#231f20" stroke-width="3"/>
<line x1="631.17" y1="175.21" x2="626.22" y2="122.92" stroke="#231f20" stroke-width="3"/>
<line x1="664.49" y1="172.84" x2="662.84" y2="120.35" stroke="#231f20" stroke-width="3"/>
<use href="#i-female" transform="translate(700.67,97.68) scale(0.65)"/>
<use href="#i-male" transform="translate(701.47,74.68) scale(0.635)"/>
<text x="710.47" y="65.68" font-size="15" fill="#231f20" text-anchor="middle">*</text>
<use href="#i-tree" transform="translate(738.24,100.85) scale(0.67)"/>
<use href="#i-female" transform="translate(776.32,103.76) scale(0.65)"/>
<use href="#i-male" transform="translate(777.12,80.76) scale(0.635)"/>
<text x="786.12" y="71.76" font-size="15" fill="#231f20" text-anchor="middle">*</text>
<use href="#i-female" transform="translate(813.73,110.32) scale(0.65)"/>
<use href="#i-male" transform="translate(814.53,87.32) scale(0.635)"/>
<text x="823.53" y="78.32" font-size="15" fill="#231f20" text-anchor="middle">*</text>
<use href="#i-art" transform="translate(850.35,122.27) scale(0.81)"/>
<use href="#i-art" transform="translate(886.88,133.21) scale(0.81)"/>
<use href="#i-art" transform="translate(922.7,146.42) scale(0.81)"/>
<use href="#i-art" transform="translate(957.68,161.88) scale(0.81)"/>
<use href="#i-art" transform="translate(991.67,179.53) scale(0.81)"/>
<use href="#i-watch" transform="translate(1021.88,201.52) scale(0.53)"/>
<use href="#i-male" transform="translate(1054.24,221.74) scale(0.635)"/>
<text x="1068.24" y="215.74" font-size="15" fill="#231f20" text-anchor="middle">*</text>
<use href="#i-female" transform="translate(1084.55,242.76) scale(0.65)"/>
<text x="1098.55" y="236.76" font-size="15" fill="#231f20" text-anchor="middle">*</text>
<use href="#i-female" transform="translate(1112.84,268.43) scale(0.65)"/>
<text x="1126.84" y="262.43" font-size="15" fill="#231f20" text-anchor="middle">*</text>
<use href="#i-male" transform="translate(1139,298.65) scale(0.635)"/>
<text x="1153" y="292.65" font-size="15" fill="#231f20" text-anchor="middle">*</text>
<use href="#i-male" transform="translate(1163.89,327.72) scale(0.635)"/>
<text x="1177.89" y="321.72" font-size="15" fill="#231f20" text-anchor="middle">*</text>
<use href="#i-female" transform="translate(1187.41,355.53) scale(0.65)"/>
<use href="#i-male" transform="translate(1188.21,332.53) scale(0.635)"/>
<text x="1202.21" y="326.53" font-size="15" fill="#231f20" text-anchor="middle">*</text>
<use href="#i-art" transform="translate(1212.27,390.42) scale(0.81)"/>
<text x="1237.27" y="390.62" font-size="17.7" fill="#231f20" text-anchor="middle">©</text>
<use href="#i-art" transform="translate(1231.67,424.02) scale(0.81)"/>
<text x="1256.67" y="424.22" font-size="17.7" fill="#231f20" text-anchor="middle">©</text>
<use href="#i-art" transform="translate(1248.91,458.83) scale(0.81)"/>
<text x="1273.91" y="459.03" font-size="17.7" fill="#231f20" text-anchor="middle">©</text>
<use href="#i-female" transform="translate(1259.17,490.97) scale(0.65)"/>
<text x="1273.17" y="484.97" font-size="15" fill="#231f20" text-anchor="middle">*</text>
<use href="#i-female" transform="translate(1271.63,527.43) scale(0.65)"/>
<text x="1287.63" y="528.43" font-size="15" fill="#231f20" text-anchor="middle">*</text>
<use href="#i-male" transform="translate(1281.29,567.44) scale(0.635)"/>
<text x="1297.29" y="568.44" font-size="15" fill="#231f20" text-anchor="middle">*</text>
<use href="#i-art" transform="translate(1294.9,607.3) scale(0.81)"/>
<use href="#i-art" transform="translate(1300.39,645.32) scale(0.81)"/>
<text x="1324.89" y="649.02" font-size="17.7" fill="#231f20" text-anchor="middle">©</text>
<use href="#i-art" transform="translate(1303.39,683.4) scale(0.81)"/>
<text x="1327.89" y="687.1" font-size="17.7" fill="#231f20" text-anchor="middle">©</text>
<use href="#i-art" transform="translate(1303.89,721.62) scale(0.81)"/>
<text x="1328.39" y="725.32" font-size="17.7" fill="#231f20" text-anchor="middle">©</text>
<use href="#i-art" transform="translate(1301.88,759.84) scale(0.81)"/>
<text x="1326.38" y="763.54" font-size="17.7" fill="#231f20" text-anchor="middle">©</text>
<use href="#i-art" transform="translate(1297.36,797.89) scale(0.81)"/>
<text x="1321.86" y="801.59" font-size="17.7" fill="#231f20" text-anchor="middle">©</text>
<use href="#i-art" transform="translate(1290.36,836.27) scale(0.81)"/>
<text x="1314.86" y="839.97" font-size="17.7" fill="#231f20" text-anchor="middle">©</text>
<use href="#i-art" transform="translate(1280.89,874.4) scale(0.81)"/>
<text x="1305.39" y="878.1" font-size="17.7" fill="#231f20" text-anchor="middle">©</text>
<use href="#i-art" transform="translate(1268.99,911.88) scale(0.81)"/>
<text x="1293.49" y="915.58" font-size="17.7" fill="#231f20" text-anchor="middle">©</text>
<use href="#i-art" transform="translate(1254.71,948.55) scale(0.81)"/>
<text x="1279.21" y="952.25" font-size="17.7" fill="#231f20" text-anchor="middle">©</text>
<use href="#i-art" transform="translate(1238.1,984.25) scale(0.81)"/>
<text x="1262.6" y="987.95" font-size="17.7" fill="#231f20" text-anchor="middle">©</text>
<use href="#i-art" transform="translate(1219.24,1018.82) scale(0.81)"/>
<text x="1243.74" y="1022.52" font-size="17.7" fill="#231f20" text-anchor="middle">©</text>
<use href="#i-art" transform="translate(1198.21,1052.14) scale(0.81)"/>
<text x="1222.71" y="1055.84" font-size="17.7" fill="#231f20" text-anchor="middle">©</text>
<use href="#i-art" transform="translate(1175.09,1084.04) scale(0.81)"/>
<text x="1199.59" y="1087.74" font-size="17.7" fill="#231f20" text-anchor="middle">©</text>
<use href="#i-art" transform="translate(1149.98,1114.41) scale(0.81)"/>
<text x="1175.48" y="1123.61" font-size="17.7" fill="#231f20" text-anchor="middle">©</text>
<use href="#i-art" transform="translate(1122.99,1143.1) scale(0.81)"/>
<text x="1148.49" y="1152.3" font-size="17.7" fill="#231f20" text-anchor="middle">©</text>
<use href="#i-art" transform="translate(1094.23,1170.01) scale(0.81)"/>
<text x="1119.73" y="1179.21" font-size="17.7" fill="#231f20" text-anchor="middle">©</text>
<use href="#i-art" transform="translate(1063.83,1195.02) scale(0.81)"/>
<text x="1089.33" y="1204.22" font-size="17.7" fill="#231f20" text-anchor="middle">©</text>
<use href="#i-art" transform="translate(1031.91,1218.03) scale(0.81)"/>
<text x="1057.41" y="1227.23" font-size="17.7" fill="#231f20" text-anchor="middle">©</text>
<use href="#i-home" transform="translate(995.83,1234.99) scale(0.5)"/>
<use href="#i-home" transform="translate(961.76,1253.77) scale(0.5)"/>
<use href="#i-home" transform="translate(926.58,1270.35) scale(0.5)"/>
<use href="#i-home" transform="translate(890.44,1284.67) scale(0.5)"/>
<use href="#i-home" transform="translate(853.48,1296.66) scale(0.5)"/>
<use href="#i-home" transform="translate(815.86,1306.29) scale(0.5)"/>
<use href="#i-home" transform="translate(777.73,1313.51) scale(0.5)"/>
<use href="#i-home" transform="translate(739.25,1318.29) scale(0.5)"/>
<use href="#i-tree" transform="translate(700.72,1325.63) scale(0.67)"/>
<use href="#i-vase" transform="translate(661.72,1324.32) scale(0.66)"/>
<use href="#i-vase" transform="translate(622.86,1321.35) scale(0.66)"/>
<use href="#i-art" transform="translate(584.41,1314.87) scale(0.81)"/>
<text x="584.91" y="1343.47" font-size="17.7" fill="#231f20" text-anchor="middle">©</text>
<use href="#i-tree" transform="translate(545.92,1309.04) scale(0.67)"/>
<use href="#i-tree" transform="translate(508.31,1298.77) scale(0.67)"/>
<use href="#i-tree" transform="translate(471.43,1286.14) scale(0.67)"/>
<use href="#i-male" transform="translate(436.04,1269.84) scale(0.635)"/>
<text x="450.04" y="1263.84" font-size="15" fill="#231f20" text-anchor="middle">*</text>
<use href="#i-watch" transform="translate(402.08,1250.94) scale(0.53)"/>
<use href="#i-female" transform="translate(367.96,1230.66) scale(0.65)"/>
<use href="#i-male" transform="translate(335.08,1212.11) scale(0.635)"/>
<text x="350.58" y="1217.11" font-size="15" fill="#231f20" text-anchor="middle">*</text>
<use href="#i-female" transform="translate(304.6,1186) scale(0.65)"/>
<text x="320.1" y="1191" font-size="15" fill="#231f20" text-anchor="middle">*</text>
<use href="#i-female" transform="translate(275.19,1160.81) scale(0.65)"/>
<text x="290.69" y="1165.81" font-size="15" fill="#231f20" text-anchor="middle">*</text>
<use href="#i-male" transform="translate(246.95,1136.63) scale(0.635)"/>
<text x="262.45" y="1141.63" font-size="15" fill="#231f20" text-anchor="middle">*</text>
<use href="#i-tree" transform="translate(227.49,1102.25) scale(0.67)"/>
<use href="#i-tree" transform="translate(204.75,1071.7) scale(0.67)"/>
<use href="#i-art" transform="translate(170.8,1047.64) scale(0.81)"/>
<text x="143.8" y="1057.84" font-size="17.7" fill="#231f20" text-anchor="middle">©</text>
<use href="#i-art" transform="translate(150.31,1014.59) scale(0.81)"/>
<text x="123.31" y="1024.79" font-size="17.7" fill="#231f20" text-anchor="middle">©</text>
<use href="#i-art" transform="translate(131.96,980.34) scale(0.81)"/>
<text x="104.96" y="990.54" font-size="17.7" fill="#231f20" text-anchor="middle">©</text>
<use href="#i-art" transform="translate(115.82,945.03) scale(0.81)"/>
<use href="#i-art" transform="translate(101.95,908.81) scale(0.81)"/>
<use href="#i-art" transform="translate(90.4,871.82) scale(0.81)"/>
<use href="#i-art" transform="translate(81.21,834.22) scale(0.81)"/>
<use href="#i-art" transform="translate(74.42,796.16) scale(0.81)"/>
<use href="#i-home" transform="translate(77.22,758.61) scale(0.5)"/>
<use href="#i-home" transform="translate(75.18,720.55) scale(0.5)"/>
<use href="#i-home" transform="translate(75.52,682.47) scale(0.5)"/>
<use href="#i-home" transform="translate(78.22,644.51) scale(0.5)"/>
<use href="#i-home" transform="translate(83.28,606.84) scale(0.5)"/>
<use href="#i-home" transform="translate(90.67,569.57) scale(0.5)"/>
<use href="#i-home" transform="translate(100.36,532.87) scale(0.5)"/>
<use href="#i-watch" transform="translate(114.06,497.49) scale(0.53)"/>
<use href="#i-female" transform="translate(126.97,458.9) scale(0.65)"/>
<text x="140.97" y="452.9" font-size="15" fill="#231f20" text-anchor="middle">*</text>
<use href="#i-watch" transform="translate(144.71,428.47) scale(0.53)"/>
<use href="#i-art" transform="translate(157.19,390.73) scale(0.81)"/>
<text x="131.69" y="394.33" font-size="17.7" fill="#231f20" text-anchor="middle">©</text>
<use href="#i-home" transform="translate(181.66,362.53) scale(0.5)"/>
<use href="#i-home" transform="translate(204.03,332) scale(0.5)"/>
<use href="#i-home" transform="translate(228.27,302.93) scale(0.5)"/>
<use href="#i-home" transform="translate(254.26,275.44) scale(0.5)"/>
<use href="#i-home" transform="translate(281.92,249.62) scale(0.5)"/>
<use href="#i-home" transform="translate(311.13,225.57) scale(0.5)"/>
<use href="#i-art" transform="translate(340.87,201.19) scale(0.81)"/>
<use href="#i-watch" transform="translate(375.39,185.88) scale(0.53)"/>
<use href="#i-female" transform="translate(408.03,163.26) scale(0.65)"/>
<use href="#i-male" transform="translate(408.83,140.26) scale(0.635)"/>
<use href="#i-male" transform="translate(409.63,117.26) scale(0.635)"/>
<text x="423.63" y="111.26" font-size="15" fill="#231f20" text-anchor="middle">*</text>
<use href="#i-female" transform="translate(442.27,147.25) scale(0.65)"/>
<use href="#i-male" transform="translate(443.07,124.25) scale(0.635)"/>
<text x="457.07" y="118.25" font-size="15" fill="#231f20" text-anchor="middle">*</text>
<use href="#i-male" transform="translate(476.96,136.19) scale(0.635)"/>
<text x="490.96" y="130.19" font-size="15" fill="#231f20" text-anchor="middle">*</text>
<use href="#i-male" transform="translate(512.95,124.54) scale(0.635)"/>
<text x="526.95" y="118.54" font-size="15" fill="#231f20" text-anchor="middle">*</text>
<use href="#i-female" transform="translate(550.1,112.34) scale(0.65)"/>
<text x="564.1" y="106.34" font-size="15" fill="#231f20" text-anchor="middle">*</text>
<use href="#i-female" transform="translate(587.29,105.23) scale(0.65)"/>
<use href="#i-male" transform="translate(588.09,82.23) scale(0.635)"/>
<text x="597.09" y="73.23" font-size="15" fill="#231f20" text-anchor="middle">*</text>
<use href="#i-female" transform="translate(624.88,100.43) scale(0.65)"/>
<text x="627.88" y="88.43" font-size="15" fill="#231f20" text-anchor="middle">*</text>
<use href="#i-tree" transform="translate(662.18,99.27) scale(0.67)"/>
<text transform="translate(691.5,416.53) rotate(-90)" font-size="12.5" fill="#fff" text-anchor="middle">Sophomore</text>
<text transform="translate(709.58,417.48) rotate(-86.4)" font-size="12.5" fill="#fff" text-anchor="middle">Junior</text>
<text transform="translate(727.58,419.54) rotate(-82.8)" font-size="12.5" fill="#fff" text-anchor="middle">Senior</text>
<text transform="translate(763.11,426.92) rotate(-75.6)" font-size="12.5" fill="#fff" text-anchor="middle">Freshman</text>
<text transform="translate(863.92,476.17) rotate(-53.35)" font-size="12.5" fill="#fff" text-anchor="middle">Highschool</text>
<text transform="translate(938.94,558.33) rotate(-31.55)" font-size="12.5" fill="#fff" text-anchor="middle">Sophomore</text>
<text transform="translate(962.11,604.36) rotate(-21.6)" font-size="12.5" fill="#fff" text-anchor="middle">Junior</text>
<text transform="translate(968.52,621.98) rotate(-18)" font-size="12.5" fill="#fff" text-anchor="middle">Freshman</text>
<text transform="translate(436.37,880.16) rotate(-36)" font-size="12.5" fill="#fff" text-anchor="middle">Sophomore</text>
<text transform="translate(418.29,581.04) rotate(24.8)" font-size="12.5" fill="#fff" text-anchor="middle">Junior</text>
<text transform="translate(807.3,552.1) rotate(53.5)" font-size="18.5" fill="#fff" textLength="92" lengthAdjust="spacingAndGlyphs">Phoenix, AZ</text>
<text transform="translate(477,770.8) rotate(59.5)" font-size="18.5" fill="#fff" textLength="113" lengthAdjust="spacingAndGlyphs">Providence, RI</text>
<text x="1324" y="100.8" font-size="52.5" fill="#231f20" textLength="650" lengthAdjust="spacingAndGlyphs">100 Photos: An Infographic</text>
<text x="1300" y="1066.9" font-size="16.6" fill="#231f20" letter-spacing="0.28">Subject:</text>
<text x="1300" y="1114.7" font-size="16.6" fill="#231f20" letter-spacing="0.28">Accessory</text>
<text x="1300" y="1162.3" font-size="16.6" fill="#231f20" letter-spacing="0.28">Art</text>
<text x="1300" y="1209.7" font-size="16.6" fill="#231f20" letter-spacing="0.28">Home</text>
<text x="1300" y="1257.1" font-size="16.6" fill="#231f20" letter-spacing="0.28">Female</text>
<text x="1455" y="1114.7" font-size="16.6" fill="#231f20" letter-spacing="0.28">Male</text>
<text x="1455" y="1162.3" font-size="16.6" fill="#231f20" letter-spacing="0.28">Scenery</text>
<text x="1455" y="1209.7" font-size="16.6" fill="#231f20" letter-spacing="0.28">Still Life</text>
<text x="1300" y="1297" font-size="16.6" fill="#231f20" letter-spacing="0.28">Orientation:</text>
<text x="1300" y="1320.2" font-size="16.6" fill="#231f20" letter-spacing="0.28">Portrait</text>
<text x="1300" y="1344.1" font-size="16.6" fill="#231f20" letter-spacing="0.28">Landscape</text>
<rect x="1421.2" y="1308" width="85" height="11.2" fill="#42261a"/>
<rect x="1421.2" y="1332.3" width="85" height="11.2" fill="#a87a3a"/>
<text x="1586" y="1066.9" font-size="16.6" fill="#231f20" letter-spacing="0.28">Reason:</text>
<text x="1586" y="1090.6" font-size="16.6" fill="#231f20" letter-spacing="0.28">Contact Photo</text>
<rect x="1707.2" y="1079.1" width="85" height="11.2" fill="#4b7a5e"/>
<text x="1586" y="1114.45" font-size="16.6" fill="#231f20" letter-spacing="0.28">Documentation</text>
<rect x="1707.2" y="1103.85" width="85" height="11.2" fill="#585768"/>
<text x="1586" y="1138.3" font-size="16.6" fill="#231f20" letter-spacing="0.28">For Friend</text>
<rect x="1707.2" y="1128.6" width="85" height="11.2" fill="#92827e"/>
<text x="1586" y="1162.15" font-size="16.6" fill="#231f20" letter-spacing="0.28">Inspiration</text>
<rect x="1707.2" y="1153.35" width="85" height="11.2" fill="#925a72"/>
<text x="1586" y="1186" font-size="16.6" fill="#231f20" letter-spacing="0.28">Remember</text>
<rect x="1707.2" y="1178.1" width="85" height="11.2" fill="#6660ad"/>
<text x="1586" y="1220" font-size="16.6" fill="#231f20" letter-spacing="0.28">Photographer:</text>
<text x="1586" y="1243.9" font-size="16.6" fill="#231f20" letter-spacing="0.28">Adam</text>
<text x="1586" y="1267.3" font-size="16.6" fill="#231f20" letter-spacing="0.28">Not Adam</text>
<rect x="1707.2" y="1231.4" width="85" height="11.2" fill="#231f20"/>
<rect x="1707.2" y="1256.1" width="85" height="11.2" fill="#939598"/>
<text x="1586" y="1296.3" font-size="16.6" fill="#231f20" letter-spacing="0.28">Other:</text>
<text x="1586" y="1319.7" font-size="16.6" fill="#231f20" letter-spacing="0.28">Personal Art</text>
<text x="1586" y="1343.6" font-size="16.6" fill="#231f20" letter-spacing="0.28">Friend</text>
<text x="1707" y="1319.8" font-size="17.7" fill="#231f20">©</text>
<text x="1707.5" y="1341.6" font-size="15" fill="#231f20">*</text>
<text x="1807" y="1244.9" font-size="16.6" fill="#231f20" letter-spacing="0.28">Location:</text>
<text x="1807" y="1268.3" font-size="16.6" fill="#231f20" letter-spacing="0.28">Rome, Italy</text>
<rect x="1928.3" y="1256.4" width="84.7" height="11.4" fill="#f26522" stroke="#8f9aa0" stroke-width="0.8"/>
<text x="1807" y="1292.2" font-size="16.6" fill="#231f20" letter-spacing="0.28">Seattle, WA</text>
<rect x="1928.3" y="1280.35" width="84.7" height="11.4" fill="#ffde17" stroke="#8f9aa0" stroke-width="0.8"/>
<text x="1807" y="1316.1" font-size="16.6" fill="#231f20" letter-spacing="0.28">Duxbury, MA</text>
<rect x="1928.3" y="1304.3" width="84.7" height="11.4" fill="#0da550" stroke="#8f9aa0" stroke-width="0.8"/>
<text x="1807" y="1340" font-size="16.6" fill="#231f20" letter-spacing="0.28">New York, NY</text>
<rect x="1928.3" y="1328.25" width="84.7" height="11.4" fill="#24409a" stroke="#8f9aa0" stroke-width="0.8"/>
<use href="#i-watch" transform="translate(1411.9,1109.8)"/>
<use href="#i-art" transform="translate(1415.9,1151.4)"/>
<use href="#i-home" transform="translate(1411.8,1195)"/>
<use href="#i-female" transform="translate(1416.2,1243.8)"/>
<use href="#i-male" transform="translate(1549.7,1107.8)"/>
<use href="#i-tree" transform="translate(1550.3,1152.2)"/>
<use href="#i-vase" transform="translate(1549.3,1200)"/>
</svg>
</body></html>
